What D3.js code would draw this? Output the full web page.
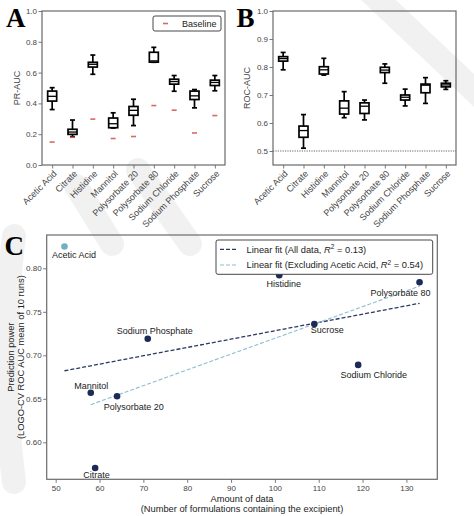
<!DOCTYPE html>
<html><head><meta charset="utf-8">
<script src="https://cdn.jsdelivr.net/npm/d3@7"></script>
<style>
html,body{margin:0;padding:0;background:#fff;}
svg{display:block;font-family:"Liberation Sans",Arial,sans-serif;}
</style></head>
<body>
<svg id="chart" width="474" height="516"></svg>
<script>
// ---------- data ----------
const categories = ["Acetic Acid","Citrate","Histidine","Mannitol","Polysorbate 20","Polysorbate 80","Sodium Chloride","Sodium Phosphate","Sucrose"];

// Panel A: PR-AUC box statistics
const prLow  = [0.360,0.184,0.589,0.240,0.256,0.667,0.479,0.371,0.482];
const prQ1   = [0.415,0.199,0.636,0.242,0.323,0.668,0.525,0.425,0.516];
const prMed  = [0.446,0.214,0.654,0.268,0.355,0.676,0.542,0.449,0.536];
const prQ3   = [0.480,0.232,0.667,0.305,0.380,0.732,0.557,0.480,0.551];
const prHigh = [0.502,0.292,0.714,0.339,0.427,0.764,0.581,0.490,0.581];
const prBaseline = [0.149,0.180,0.298,0.172,0.185,0.386,0.356,0.208,0.321];
const prTicks = [0.0,0.2,0.4,0.6,0.8,1.0];

// Panel B: ROC-AUC box statistics
const rocLow  = [0.790,0.510,0.771,0.619,0.611,0.742,0.661,0.670,0.720];
const rocQ1   = [0.821,0.549,0.775,0.632,0.634,0.780,0.682,0.708,0.729];
const rocMed  = [0.830,0.573,0.790,0.653,0.660,0.789,0.692,0.735,0.736];
const rocQ3   = [0.837,0.589,0.801,0.679,0.672,0.799,0.700,0.739,0.742];
const rocHigh = [0.852,0.630,0.831,0.712,0.682,0.811,0.721,0.762,0.751];
const rocChance = 0.5;
const rocTicks = [0.5,0.6,0.7,0.8,0.9,1.0];

// Panel C: scatter
const scatterNames = ["Acetic Acid","Histidine","Polysorbate 80","Sucrose","Sodium Phosphate","Mannitol","Polysorbate 20","Citrate","Sodium Chloride"];
const amountOfData = [52,101,133,109,71,58,64,59,119];
const predictionPower = [0.825,0.792,0.784,0.736,0.719,0.657,0.653,0.5705,0.689];
const scatterXTicks = [50,60,70,80,90,100,110,120,130];
const scatterYTicks = [0.60,0.65,0.70,0.75,0.80];
const fitLegend = ["Linear fit (All data, ", "Linear fit (Excluding Acetic Acid, "];
const fitR2 = ["0.13","0.54"];

// ---------- helpers ----------
const svg = d3.select("#chart");
const tickColor = "#444";
const textColor = "#222";
const spineColor = "#6a6a6a";
const tickFont = "8px";

// faint background watermark bands
const wm = svg.append("g").attr("fill","none").attr("stroke","#000").attr("stroke-opacity",0.055)
  .attr("stroke-width",24).attr("stroke-linecap","round");
wm.append("path").attr("d","M368,-10 L482,98");
wm.append("path").attr("d","M76,186 L112,244");
wm.append("path").attr("d","M138,170 L190,244");
wm.append("path").attr("d","M14,236 Q-2,360 14,482");

function styleAxis(g){
  g.select(".domain").remove();
  g.selectAll(".tick line").attr("stroke", spineColor).attr("stroke-width",0.9);
  g.selectAll(".tick text").attr("fill", tickColor).attr("font-size",tickFont);
}

function boxPanel(opts){
  const {x0,x1,y0,y1,domain,ticks,low,q1,med,q3,high,label,labelX} = opts;
  const x = d3.scalePoint().domain(categories).range([x0,x1]).padding(0.5);
  const y = d3.scaleLinear().domain(domain).range([y1,y0]);
  const g = svg.append("g");
  // y axis
  const ya = g.append("g").attr("transform",`translate(${x0},0)`)
    .call(d3.axisLeft(y).tickValues(ticks).tickFormat(d3.format(".1f")).tickSize(3.5).tickPadding(1.5));
  styleAxis(ya);
  // x axis (ticks only; labels drawn rotated below)
  const xa = g.append("g").attr("transform",`translate(0,${y1})`)
    .call(d3.axisBottom(x).tickSize(3.5).tickFormat(""));
  styleAxis(xa);
  const lab = g.append("g").selectAll("g").data(categories).join("g")
    .attr("transform",c=>`translate(${x(c)+3},${y1+7}) rotate(-45)`);
  lab.append("text").attr("x",0).attr("y",0).attr("dy","0.35em")
    .attr("text-anchor","end").attr("font-size","9px").attr("fill",tickColor).text(c=>c);
  // y label
  g.append("text").attr("transform",`translate(${labelX},${(y0+y1)/2}) rotate(-90)`)
    .attr("text-anchor","middle").attr("font-size","9px").attr("fill",tickColor).text(label);
  const bw = 9, cw = 5;
  const items = categories.map((c,i)=>({c,lo:low[i],q1:q1[i],md:med[i],q3:q3[i],hi:high[i]}));
  const bg = g.append("g").attr("stroke","#000").attr("stroke-width",1.7).attr("fill","none");
  items.forEach(d=>{
    const cx = x(d.c);
    bg.append("line").attr("x1",cx).attr("x2",cx).attr("y1",y(d.hi)).attr("y2",y(d.q3));
    bg.append("line").attr("x1",cx).attr("x2",cx).attr("y1",y(d.q1)).attr("y2",y(d.lo));
    bg.append("line").attr("x1",cx-cw/2).attr("x2",cx+cw/2).attr("y1",y(d.hi)).attr("y2",y(d.hi));
    bg.append("line").attr("x1",cx-cw/2).attr("x2",cx+cw/2).attr("y1",y(d.lo)).attr("y2",y(d.lo));
    bg.append("rect").attr("x",cx-bw/2).attr("width",bw).attr("y",y(d.q3)).attr("height",Math.max(0.5,y(d.q1)-y(d.q3))).attr("fill","#fff");
    bg.append("line").attr("x1",cx-bw/2).attr("x2",cx+bw/2).attr("y1",y(d.md)).attr("y2",y(d.md)).attr("stroke-width",1.3);
  });
  // frame
  g.append("rect").attr("x",x0).attr("y",y0).attr("width",x1-x0).attr("height",y1-y0)
    .attr("fill","none").attr("stroke",spineColor).attr("stroke-width",1.2);
  return {g,x,y};
}

// ---------- panel A ----------
const A = boxPanel({x0:42,x1:225,y0:11,y1:165,domain:[0,1],ticks:prTicks,
  low:prLow,q1:prQ1,med:prMed,q3:prQ3,high:prHigh,label:"PR-AUC",labelX:19.5});
A.g.append("g").selectAll("line").data(categories).join("line")
  .attr("x1",(c)=>A.x(c)-2.5).attr("x2",(c)=>A.x(c)+2.5)
  .attr("y1",(c,i)=>A.y(prBaseline[i])).attr("y2",(c,i)=>A.y(prBaseline[i]))
  .attr("stroke","#d2504a").attr("stroke-width",1.6).attr("opacity",0.85);
// legend A
const la = A.g.append("g");
la.append("rect").attr("x",153).attr("y",16).attr("width",68).attr("height",15).attr("rx",2)
  .attr("fill","#fff").attr("stroke","#333").attr("stroke-width",0.9);
la.append("line").attr("x1",163).attr("x2",168).attr("y1",23.5).attr("y2",23.5)
  .attr("stroke","#d2504a").attr("stroke-width",1.6).attr("opacity",0.85);
la.append("text").attr("x",182).attr("y",26.8).attr("font-size","9px").attr("fill",textColor).text("Baseline");

// ---------- panel B ----------
const B = boxPanel({x0:273,x1:456,y0:11,y1:165,domain:[0.45,1.0],ticks:rocTicks,
  low:rocLow,q1:rocQ1,med:rocMed,q3:rocQ3,high:rocHigh,label:"ROC-AUC",labelX:249.5});
B.g.insert("line",":first-child").attr("x1",273).attr("x2",456).attr("y1",B.y(rocChance)).attr("y2",B.y(rocChance))
  .attr("stroke","#555").attr("stroke-width",0.9).attr("stroke-dasharray","1.2,1.2");

// ---------- panel C ----------
const cx0=46.7, cx1=437.3, cy0=235, cy1=479.3;
const xs = d3.scaleLinear().domain([47.95,137.05]).range([cx0,cx1]);
const ys = d3.scaleLinear().domain([0.5575,0.8383]).range([cy1,cy0]);
const gc = svg.append("g");
const cya = gc.append("g").attr("transform",`translate(${cx0},0)`)
  .call(d3.axisLeft(ys).tickValues(scatterYTicks).tickFormat(d3.format(".2f")).tickSize(3.5).tickPadding(1.5));
styleAxis(cya);
const cxa = gc.append("g").attr("transform",`translate(0,${cy1})`)
  .call(d3.axisBottom(xs).tickValues(scatterXTicks).tickFormat(d3.format("d")).tickSize(3.5).tickPadding(3));
styleAxis(cxa);

// regression
function fit(xsArr, ysArr){
  const mx=d3.mean(xsArr), my=d3.mean(ysArr);
  let sxy=0,sxx=0;
  xsArr.forEach((v,i)=>{sxy+=(v-mx)*(ysArr[i]-my);sxx+=(v-mx)*(v-mx);});
  const b=sxy/sxx, a=my-b*mx;
  const [lo,hi]=d3.extent(xsArr);
  return [[lo,a+b*lo],[hi,a+b*hi]];
}
const keep = scatterNames.map((n,i)=>i).filter(i=>scatterNames[i]!=="Acetic Acid");
const fitAll = fit(amountOfData, predictionPower);
const fitEx = fit(keep.map(i=>amountOfData[i]), keep.map(i=>predictionPower[i]));
const lineGen = d3.line().x(d=>xs(d[0])).y(d=>ys(d[1]));
const darkLine = "#2b3a63", lightLine = "#8ebdcf";
gc.append("path").attr("d",lineGen(fitAll)).attr("fill","none").attr("stroke",darkLine)
  .attr("stroke-width",1.3).attr("stroke-dasharray","4,2");
gc.append("path").attr("d",lineGen(fitEx)).attr("fill","none").attr("stroke",lightLine)
  .attr("stroke-width",1.1).attr("stroke-dasharray","4,2");

// points
gc.append("g").selectAll("circle").data(scatterNames).join("circle")
  .attr("cx",(d,i)=>xs(amountOfData[i])).attr("cy",(d,i)=>ys(predictionPower[i])).attr("r",3.3)
  .attr("fill",d=>d==="Acetic Acid"?"#6fb0c2":"#1b2b57");

// labels (offset of text centre from the point)
const labelOffset = {
  "Acetic Acid":[9.5,8], "Histidine":[4.5,8.5], "Polysorbate 80":[-19,10.4], "Sucrose":[13,5.6],
  "Sodium Phosphate":[7,-8], "Mannitol":[0.5,-7.4], "Polysorbate 20":[16.7,10.7], "Citrate":[1.3,7.3],
  "Sodium Chloride":[15.7,10]
};
gc.append("g").selectAll("text").data(scatterNames).join("text")
  .attr("x",(d,i)=>xs(amountOfData[i])+labelOffset[d][0])
  .attr("y",(d,i)=>ys(predictionPower[i])+labelOffset[d][1]+3.2)
  .attr("text-anchor","middle").attr("font-size","9px").attr("fill",textColor).text(d=>d);

// frame
gc.append("rect").attr("x",cx0).attr("y",cy0).attr("width",cx1-cx0).attr("height",cy1-cy0)
  .attr("fill","none").attr("stroke",spineColor).attr("stroke-width",1.2);

// legend C
const lc = gc.append("g");
lc.append("rect").attr("x",216).attr("y",240).attr("width",216.7).attr("height",34.3).attr("rx",2)
  .attr("fill","#fff").attr("stroke","#333").attr("stroke-width",0.9);
[darkLine, lightLine].forEach((col,i)=>{
  const yy = 249.3 + i*15.7;
  lc.append("line").attr("x1",220).attr("x2",238).attr("y1",yy).attr("y2",yy)
    .attr("stroke",col).attr("stroke-width",i?1.1:1.3).attr("stroke-dasharray","4,2");
  const t = lc.append("text").attr("x",246.5).attr("y",yy+3.3).attr("font-size","9.3px").attr("fill",textColor);
  t.append("tspan").text(fitLegend[i]);
  t.append("tspan").attr("font-style","italic").text("R");
  t.append("tspan").attr("font-size","6.5px").attr("dy","-3.5").text("2");
  t.append("tspan").attr("dy","3.5").text(" = " + fitR2[i] + ")");
});

// axis labels C
gc.append("text").attr("x",(cx0+cx1)/2).attr("y",501.5).attr("text-anchor","middle")
  .attr("font-size","9.3px").attr("fill",textColor).text("Amount of data");
gc.append("text").attr("x",(cx0+cx1)/2).attr("y",511.8).attr("text-anchor","middle")
  .attr("font-size","9.3px").attr("fill",textColor).text("(Number of formulations containing the excipient)");
gc.append("text").attr("transform",`translate(13.5,${(cy0+cy1)/2}) rotate(-90)`).attr("text-anchor","middle")
  .attr("font-size","9.3px").attr("fill",textColor).text("Prediction power");
gc.append("text").attr("transform",`translate(24,${(cy0+cy1)/2}) rotate(-90)`).attr("text-anchor","middle")
  .attr("font-size","9.3px").attr("fill",textColor).text("(LOGO-CV ROC AUC mean of 10 runs)");

// panel letters
[["A",6,26.7],["B",236.5,26.7],["C",4.5,255]].forEach(([t,x,y])=>{
  svg.append("text").attr("x",x).attr("y",y).attr("font-family","'Liberation Serif','Times New Roman',serif")
    .attr("font-weight","bold").attr("font-size","27px").attr("fill","#000").text(t);
});
</script>
</body></html>
